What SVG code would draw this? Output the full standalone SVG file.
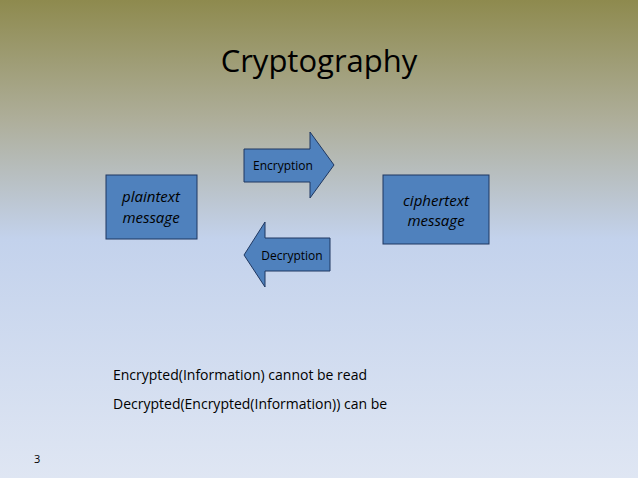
<svg xmlns="http://www.w3.org/2000/svg" width="638" height="478" viewBox="0 0 638 478">
<defs>
<linearGradient id="bg" x1="0" y1="0" x2="0" y2="1">
<stop offset="0" stop-color="#8e8a4e"/>
<stop offset="0.25" stop-color="#aeae9a"/>
<stop offset="0.5" stop-color="#c3d2ec"/>
<stop offset="1" stop-color="#dfe6f3"/>
</linearGradient>
<style>
.n{fill:#4f81bd;stroke:#1f3760;stroke-width:1}
.t{font-family:"Open Sans","Liberation Sans",sans-serif;fill:#000}
.i{font-style:italic;font-size:15px;text-anchor:middle}
.s{font-size:12px;text-anchor:middle}
.b{font-size:14px}
</style>
</defs>
<rect width="638" height="478" fill="url(#bg)"/>
<text class="t" x="319" y="72" font-size="31" text-anchor="middle">Cryptography</text>
<g id="plaintext"><rect class="n" x="106" y="175" width="91" height="64"/>
<text class="t i" x="151" y="202">plaintext</text><text class="t i" x="151" y="223">message</text></g>
<g id="ciphertext"><rect class="n" x="383" y="175" width="106" height="69"/>
<text class="t i" x="436" y="206">ciphertext</text><text class="t i" x="436" y="226">message</text></g>
<g id="connectors">
<g id="encryption"><polygon class="n" points="244,149 310,149 310,132 334,165 310,198 310,182 244,182"/>
<text class="t s" x="283" y="170">Encryption</text></g>
<g id="decryption"><polygon class="n" points="330,238 265,238 265,222 244,255 265,287 265,271 330,271"/>
<text class="t s" x="292" y="260">Decryption</text></g>
</g>
<text class="t b" x="113" y="380">Encrypted(Information) cannot be read</text>
<text class="t b" x="113" y="409">Decrypted(Encrypted(Information)) can be</text>
<text class="t" x="34" y="463" font-size="11" fill="#777">3</text>
</svg>
